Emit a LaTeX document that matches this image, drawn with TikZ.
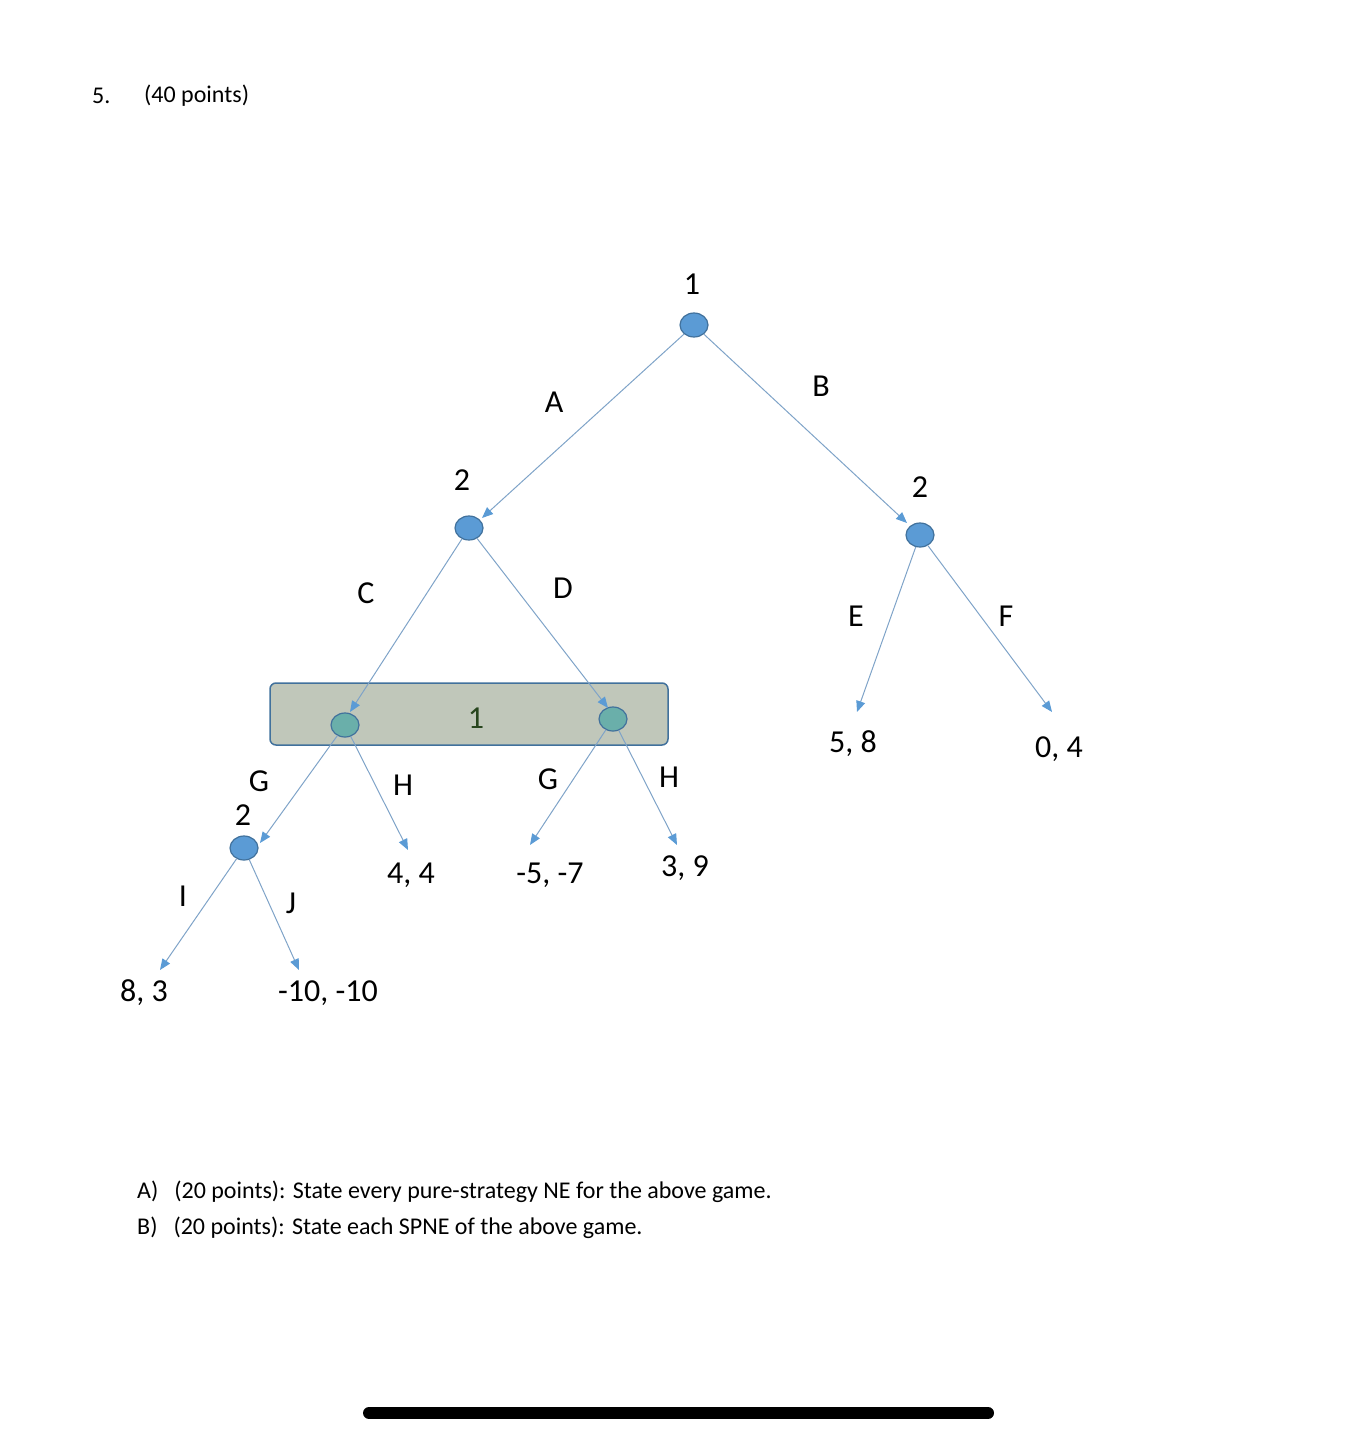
\documentclass[tikz,border=0pt]{standalone}
\usepackage{fontspec}
\setmainfont{Carlito}
\usetikzlibrary{arrows.meta,shapes.geometric}
\definecolor{nblue}{HTML}{5B9BD5}
\definecolor{nedge}{HTML}{41719C}
\definecolor{teal1}{HTML}{6AAFAA}
\definecolor{boxfill}{HTML}{C0C7BA}
\definecolor{lnc}{HTML}{7FA3C8}
\tikzset{
 dn/.style={ellipse,draw=nedge,fill=nblue,minimum width=28pt,minimum height=24pt,inner sep=0,line width=1.2pt},
 tn/.style={ellipse,draw=nedge,fill=teal1,minimum width=28pt,minimum height=24pt,inner sep=0,line width=1.2pt},
 lab/.style={font=\fontsize{32}{38}\selectfont,inner sep=0},
 txt/.style={font=\fontsize{24}{29}\selectfont,inner sep=0,anchor=west},
 mv/.style={draw=lnc,line width=1pt,-{Triangle[length=11pt,width=9pt,color=nblue,fill=nblue]}},
}
\begin{document}
\begin{tikzpicture}[x=1pt,y=-1pt]
\useasboundingbox (0,0) rectangle (1348,1434);
\node[txt] (h1) at (92,96) {5.};
\node[txt] (h2) at (144,96) {(40 points)};
\draw[draw=nedge,fill=boxfill,rounded corners=6pt,line width=1.5pt] (270,683) rectangle (668,745);
\node[lab,text={rgb,255:red,40;green,70;blue,30}] (infolab) at (476,718) {1};
\node[dn] (root) at (694,325) {};
\node[dn] (nL) at (469,528) {};
\node[dn] (nR) at (920,535) {};
\node[tn] (iL) at (345,725) {};
\node[tn] (iR) at (613,719) {};
\node[dn] (nG) at (244,848) {};
\coordinate (tE) at (857,712);
\coordinate (tF) at (1052,712);
\coordinate (t44) at (408,850);
\coordinate (t57) at (530,845);
\coordinate (t39) at (677,845);
\coordinate (t83) at (160,970);
\coordinate (t10) at (299,970);
\draw[mv] (root) -- (482,518);
\draw[mv] (root) -- (907,523);
\draw[mv] (nL) -- (350,712);
\draw[mv] (nL) -- (608,708);
\draw[mv] (nR) -- (tE);
\draw[mv] (nR) -- (tF);
\draw[mv] (iL) -- (260,843);
\draw[mv] (iL) -- (t44);
\draw[mv] (iR) -- (t57);
\draw[mv] (iR) -- (t39);
\draw[mv] (nG) -- (t83);
\draw[mv] (nG) -- (t10);
\node[lab] (l1) at (692,284) {1};
\node[lab] (lA) at (554,402) {A};
\node[lab] (lB) at (821,386) {B};
\node[lab] (l2L) at (462,480) {2};
\node[lab] (l2R) at (920,487) {2};
\node[lab] (lC) at (366,593) {C};
\node[lab] (lD) at (563,588) {D};
\node[lab] (lE) at (856,616) {E};
\node[lab] (lF) at (1006,616) {F};
\node[lab] (lG1) at (259,781) {G};
\node[lab] (l2G) at (243,815) {2};
\node[lab] (lH1) at (403,785) {H};
\node[lab] (lG2) at (548,779) {G};
\node[lab] (lH2) at (669,777) {H};
\node[lab] (lI) at (183,896) {I};
\node[lab] (lJ) at (291,903) {J};
\node[lab] (p58) at (853,744) {5, 8};
\node[lab] (p04) at (1059,749) {0, 4};
\node[lab] (p44) at (411,875) {4, 4};
\node[lab] (p57) at (550,875) {-5, -7};
\node[lab] (p39) at (685,868) {3, 9};
\node[lab] (p83) at (144,993) {8, 3};
\node[lab] (p10) at (328,993) {-10, -10};
\node[txt] (qa) at (137,1192) {A)\hspace{16pt}(20 points): State every pure-strategy NE for the above game.};
\node[txt] (qb) at (137,1228) {B)\hspace{16pt}(20 points): State each SPNE of the above game.};
\draw[line width=12pt,line cap=round] (369,1413) -- (988,1413);
\end{tikzpicture}
\end{document}
